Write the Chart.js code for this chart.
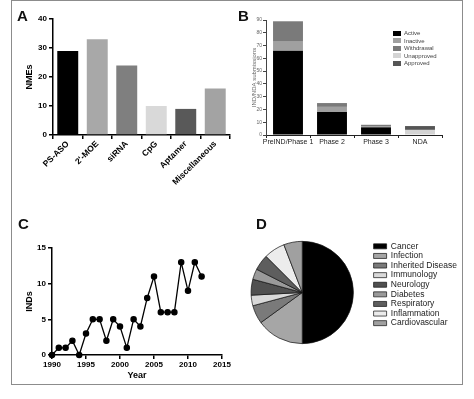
<!DOCTYPE html>
<html>
<head>
<meta charset="utf-8">
<script src="https://cdn.jsdelivr.net/npm/chart.js@4"></script>
<style>
body { margin:0; width:474px; height:399px; background:#fff; position:relative; overflow:hidden; font-family: Arial, "Liberation Sans", sans-serif; }
#frame { position:absolute; left:11px; top:0; width:450px; height:383px; border:1.5px solid #8c8c8c; }
canvas, .tag, #legB { position:absolute; }
.tag { font-weight:bold; font-size:15px; color:#111; line-height:15px; }
#legB { left:393px; top:30px; font-size:6px; color:#444; }
#legB div { height:7.5px; line-height:7.5px; white-space:nowrap; }
#legB span { display:inline-block; width:8px; height:5px; margin-right:3px; vertical-align:middle; }
</style>
</head>
<body>
<div id="frame"></div>
<canvas id="chartA" width="226" height="188" style="left:11px;top:2px"></canvas>
<canvas id="chartB" width="226" height="188" style="left:237px;top:2px"></canvas>
<canvas id="chartC" width="226" height="185" style="left:11px;top:200px"></canvas>
<canvas id="chartD" width="240" height="130" style="left:228px;top:231px"></canvas>
<div class="tag" style="left:17px;top:8px">A</div>
<div class="tag" style="left:238px;top:8px">B</div>
<div class="tag" style="left:18px;top:216px">C</div>
<div class="tag" style="left:256px;top:216px">D</div>
<div id="legB"></div>
<script>
// A: NMEs per chemistry class
const nmeClasses = ['PS-ASO', "2'-MOE", 'siRNA', 'CpG', 'Aptamer', 'Miscellaneous'];
const nmeCounts = [29, 33, 24, 10, 9, 16];
const nmeShades = ['#000000', '#a8a8a8', '#7f7f7f', '#d9d9d9', '#595959', '#a3a3a3'];

// B: IND/NDA submissions by phase and status
const phases = ['PreIND/Phase 1', 'Phase 2', 'Phase 3', 'NDA'];
const statusNames = ['Active', 'Inactive', 'Withdrawal', 'Unapproved', 'Approved'];
const statusShades = ['#000000', '#a0a0a0', '#7a7a7a', '#d4d4d4', '#555555'];
const activeCounts = [66, 18, 6, 0];
const inactiveCounts = [7, 4, 1, 0];
const withdrawalCounts = [16, 3, 1, 0];
const unapprovedCounts = [0, 0, 0, 4];
const approvedCounts = [0, 0, 0, 3];

// C: INDs per year
const years = [1990, 1991, 1992, 1993, 1994, 1995, 1996, 1997, 1998, 1999, 2000, 2001,
               2002, 2003, 2004, 2005, 2006, 2007, 2008, 2009, 2010, 2011, 2012];
const indCounts = [0, 1, 1, 2, 0, 3, 5, 5, 2, 5, 4, 1, 5, 4, 8, 11, 6, 6, 6, 13, 9, 13, 11];

// D: therapeutic areas
const areas = ['Cancer', 'Infection', 'Inherited Disease', 'Immunology', 'Neurology',
               'Diabetes', 'Respiratory', 'Inflammation', 'Cardiovascular'];
const areaCounts = [60, 18, 7, 4, 6, 4, 6, 8, 7];
const areaShades = ['#000000', '#a6a6a6', '#7a7a7a', '#d9d9d9', '#505050',
                    '#9a9a9a', '#5e5e5e', '#ececec', '#a0a0a0'];

const FONT = 'Arial, "Liberation Sans", sans-serif';
Chart.defaults.font.family = FONT;
Chart.defaults.animation = false;
Chart.defaults.plugins.tooltip.enabled = false;

// bold black axis look shared by A and C
function boldAxis(extra) {
    return Object.assign({
        border: { color: '#000', width: 1.5 },
        grid: { drawOnChartArea: false, drawTicks: true, tickLength: 4, color: '#000', lineWidth: 1.5 },
        ticks: { color: '#000', font: { size: 8, weight: 'bold' }, padding: 2 }
    }, extra);
}

new Chart(document.getElementById('chartA'), {
    type: 'bar',
    data: {
        labels: nmeClasses,
        datasets: [{ data: nmeCounts, backgroundColor: nmeShades, barPercentage: 0.71, categoryPercentage: 1 }]
    },
    options: {
        responsive: false,
        layout: { padding: { top: 17, right: 7, left: 0, bottom: 0 } },
        plugins: { legend: { display: false } },
        scales: {
            x: boldAxis({
                afterFit: s => { s.height = 55; },
                ticks: { color: '#000', font: { size: 8.5, weight: 'bold' }, padding: 0,
                         minRotation: 45, maxRotation: 45, autoSkip: false }
            }),
            y: boldAxis({
                min: 0, max: 40,
                afterFit: s => { s.width = 42; },
                ticks: { color: '#000', font: { size: 8, weight: 'bold' }, padding: 2, stepSize: 10 },
                title: { display: true, text: 'NMEs', color: '#000', font: { size: 9, weight: 'bold' },
                         padding: { top: 13, bottom: 0 } }
            })
        }
    }
});

const stackSets = [activeCounts, inactiveCounts, withdrawalCounts, unapprovedCounts, approvedCounts]
    .map((vals, i) => ({
        label: statusNames[i], data: vals, backgroundColor: statusShades[i],
        barPercentage: 0.68, categoryPercentage: 1
    }));

new Chart(document.getElementById('chartB'), {
    type: 'bar',
    data: { labels: phases, datasets: stackSets },
    options: {
        responsive: false,
        layout: { padding: { top: 18, right: 21, left: 0, bottom: 0 } },
        plugins: { legend: { display: false } },
        scales: {
            x: {
                stacked: true,
                afterFit: s => { s.height = 55; },
                border: { color: '#222', width: 1 },
                grid: { drawOnChartArea: false, tickLength: 3, color: '#222' },
                ticks: { color: '#222', font: { size: 7 }, padding: 0, maxRotation: 0, autoSkip: false }
            },
            y: {
                stacked: true, min: 0, max: 90,
                afterFit: s => { s.width = 29; },
                border: { color: '#444', width: 1 },
                grid: { drawOnChartArea: false, tickLength: 3, color: '#444' },
                ticks: { color: '#666', font: { size: 5 }, padding: 1, stepSize: 10 },
                title: { display: true, text: 'IND/NDA submissions', color: '#666', font: { size: 6 },
                         padding: { top: 14, bottom: 0 } }
            }
        }
    }
});

// legend for B, built from the same names/shades
document.getElementById('legB').innerHTML = statusNames
    .map((n, i) => `<div><span style="background:${statusShades[i]}"></span>${n}</div>`).join('');

new Chart(document.getElementById('chartC'), {
    type: 'line',
    data: {
        datasets: [{
            data: years.map((y, i) => ({ x: y, y: indCounts[i] })),
            borderColor: '#000', borderWidth: 1.3, backgroundColor: '#000',
            pointRadius: 2.6, pointBackgroundColor: '#000', tension: 0, clip: false
        }]
    },
    options: {
        responsive: false,
        layout: { padding: { top: 48, right: 15, left: 0, bottom: 0 } },
        plugins: { legend: { display: false } },
        scales: {
            x: boldAxis({
                type: 'linear', min: 1990, max: 2015,
                afterFit: s => { s.height = 30; },
                ticks: { color: '#000', font: { size: 8, weight: 'bold' }, padding: 1, stepSize: 5,
                         callback: v => String(v) },
                title: { display: true, text: 'Year', color: '#000', font: { size: 9, weight: 'bold' },
                         padding: { top: 0, bottom: 3.6 } }
            }),
            y: boldAxis({
                min: 0, max: 15,
                afterFit: s => { s.width = 41; },
                ticks: { color: '#000', font: { size: 8, weight: 'bold' }, padding: 2, stepSize: 5 },
                title: { display: true, text: 'INDs', color: '#000', font: { size: 9, weight: 'bold' },
                         padding: { top: 13, bottom: 0 } }
            })
        }
    }
});

new Chart(document.getElementById('chartD'), {
    type: 'pie',
    data: {
        labels: areas,
        datasets: [{ data: areaCounts, backgroundColor: areaShades, borderColor: '#111', borderWidth: 0.7 }]
    },
    options: {
        responsive: false,
        layout: { padding: { top: 10, right: 1, left: 4, bottom: 17 } },
        plugins: {
            legend: {
                position: 'right', align: 'start',
                labels: { color: '#222', font: { size: 8.5 }, boxWidth: 13, boxHeight: 5, padding: 1.1 }
            }
        }
    }
});
</script>
</body>
</html>
